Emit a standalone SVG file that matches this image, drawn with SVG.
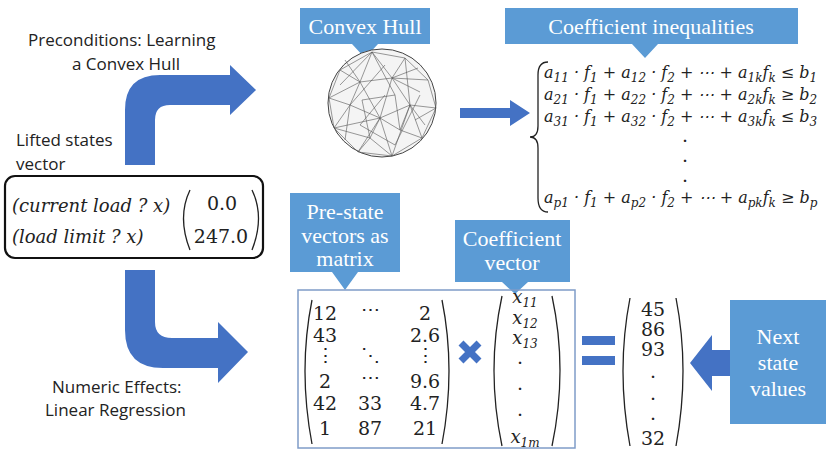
<svg xmlns="http://www.w3.org/2000/svg" width="832" height="456" viewBox="0 0 832 456">
<style>
.lbl{font-family:"Open Sans","Liberation Sans",sans-serif;font-size:17px;fill:#222}
.co{fill:#5b9bd5}
.ct{font-family:"Liberation Serif",serif;font-size:22px;fill:#fff;text-anchor:middle}
.ar{fill:#4472c4}
.m{font-family:"DejaVu Serif",serif;font-size:19px;fill:#222}
.mi{font-family:"DejaVu Serif",serif;font-style:italic;font-size:18px;fill:#222}
.eq{font-family:"DejaVu Serif",serif;font-style:italic;font-size:16px;fill:#222}
.par{fill:none;stroke:#222;stroke-width:1.3}
.mesh{fill:none;stroke:#555;stroke-width:0.6}
</style>
<rect width="832" height="456" fill="#fff"/>
<g id="labels">
<text class="lbl" x="28" y="46">Preconditions: Learning</text>
<text class="lbl" x="72" y="70">a Convex Hull</text>
<text class="lbl" x="16" y="146">Lifted states</text>
<text class="lbl" x="16" y="170">vector</text>
<text class="lbl" x="52" y="393">Numeric Effects:</text>
<text class="lbl" x="45" y="416">Linear Regression</text>
</g>
<g id="connectors">
<path class="ar" d="M125,165 V110 Q125,75 160,75 H230 V65 L256,90 L230,115 V105 H170 Q155,105 155,120 V165 Z"/>
<path class="ar" d="M125,270 V330 Q125,368 163,368 H218 V383 L248,352 L218,322 V338 H172 Q155,338 155,322 V270 Z"/>
<path class="ar" d="M460,108 H510 V100 L530,113 L510,126 V118 H460 Z"/>
<path class="ar" d="M690,363 L712,335 V350 H735 V376 H712 V391 Z"/>
</g>
<g id="convex-hull-callout">
<path class="co" d="M300,8 H430 V44 H378 L365,58 L352,44 H300 Z"/>
<text class="ct" x="365" y="34">Convex Hull</text>
</g>
<g id="coef-ineq-callout">
<path class="co" d="M505,8 H798 V44 H658 L645,58 L632,44 H505 Z"/>
<text class="ct" x="651" y="34">Coefficient inequalities</text>
</g>
<g id="hull">
<circle cx="382" cy="103" r="54" fill="#f4f4f4" stroke="#444" stroke-width="1"/>
<path class="mesh" d="M340,70 L372,52 L405,58 L428,80 L436,108 L422,138 L392,156 L358,152 L334,128 L329,98 Z M372,52 L360,82 L340,70 M360,82 L329,98 M360,82 L392,78 L405,58 M392,78 L428,80 M392,78 L410,105 L436,108 M410,105 L422,138 M410,105 L380,118 L360,82 M380,118 L334,128 M380,118 L392,156 M380,118 L358,152 M410,105 L392,156 M380,118 L392,78 M350,105 L329,98 M350,105 L360,82 M350,105 L380,118 M350,105 L334,128 M372,52 L392,78 M405,58 L410,105 M345,60 L360,82 M418,68 L392,78 M400,130 L380,118 M400,130 L422,138 M400,130 L410,105 M370,138 L380,118 M370,138 L358,152 M370,138 L392,156 M370,138 L334,128 M395,95 L372,52 M385,65 L350,105 M420,92 L392,78 M345,140 L350,105 M415,120 L436,108 M362,100 L395,95 L400,130 M362,100 L370,138 M340,85 L372,52 M425,125 L410,105 M385,95 L360,125 L395,145 L420,95"/>
</g>
<g id="inequalities">
<path class="par" d="M548,62 Q538,62 538,75 V126 Q538,137 530,137 Q538,137 538,148 V198 Q538,212 548,212"/>
<text class="eq" x="544" y="78">a<tspan font-size="12" dy="4">11</tspan><tspan dy="-4"> · f</tspan><tspan font-size="12" dy="4">1</tspan><tspan dy="-4"> + a</tspan><tspan font-size="12" dy="4">12</tspan><tspan dy="-4"> · f</tspan><tspan font-size="12" dy="4">2</tspan><tspan dy="-4"> + ⋯ + a</tspan><tspan font-size="12" dy="4">1k</tspan><tspan dy="-4">f</tspan><tspan font-size="12" dy="4">k</tspan><tspan dy="-4"> ≤ b</tspan><tspan font-size="12" dy="4">1</tspan></text>
<text class="eq" x="544" y="100">a<tspan font-size="12" dy="4">21</tspan><tspan dy="-4"> · f</tspan><tspan font-size="12" dy="4">1</tspan><tspan dy="-4"> + a</tspan><tspan font-size="12" dy="4">22</tspan><tspan dy="-4"> · f</tspan><tspan font-size="12" dy="4">2</tspan><tspan dy="-4"> + ⋯ + a</tspan><tspan font-size="12" dy="4">2k</tspan><tspan dy="-4">f</tspan><tspan font-size="12" dy="4">k</tspan><tspan dy="-4"> ≥ b</tspan><tspan font-size="12" dy="4">2</tspan></text>
<text class="eq" x="544" y="122">a<tspan font-size="12" dy="4">31</tspan><tspan dy="-4"> · f</tspan><tspan font-size="12" dy="4">1</tspan><tspan dy="-4"> + a</tspan><tspan font-size="12" dy="4">32</tspan><tspan dy="-4"> · f</tspan><tspan font-size="12" dy="4">2</tspan><tspan dy="-4"> + ⋯ + a</tspan><tspan font-size="12" dy="4">3k</tspan><tspan dy="-4">f</tspan><tspan font-size="12" dy="4">k</tspan><tspan dy="-4"> ≤ b</tspan><tspan font-size="12" dy="4">3</tspan></text>
<text class="m" x="685" y="142" text-anchor="middle">.</text>
<text class="m" x="685" y="162" text-anchor="middle">.</text>
<text class="m" x="685" y="182" text-anchor="middle">.</text>
<text class="eq" x="544" y="203">a<tspan font-size="12" dy="4">p1</tspan><tspan dy="-4"> · f</tspan><tspan font-size="12" dy="4">1</tspan><tspan dy="-4"> + a</tspan><tspan font-size="12" dy="4">p2</tspan><tspan dy="-4"> · f</tspan><tspan font-size="12" dy="4">2</tspan><tspan dy="-4"> + ⋯ + a</tspan><tspan font-size="12" dy="4">pk</tspan><tspan dy="-4">f</tspan><tspan font-size="12" dy="4">k</tspan><tspan dy="-4"> ≥ b</tspan><tspan font-size="12" dy="4">p</tspan></text>
</g>
<g id="lifted-vector">
<rect x="5" y="176" width="258" height="82" rx="10" fill="#fff" stroke="#111" stroke-width="2.2"/>
<text class="mi" x="12" y="212">(current load ? x)</text>
<text class="mi" x="12" y="243">(load limit ? x)</text>
<path class="par" d="M190,190 Q177,217 190,250"/>
<path class="par" d="M252,190 Q265,217 252,250"/>
<text class="m" x="222" y="210" text-anchor="middle">0.0</text>
<text class="m" x="221" y="243" text-anchor="middle">247.0</text>
</g>
<g id="prestate-callout">
<path class="co" d="M290,193 H400 V272 H358 L345,290 L332,272 H290 Z"/>
<text class="ct" x="345" y="219">Pre-state</text>
<text class="ct" x="345" y="243">vectors as</text>
<text class="ct" x="345" y="266">matrix</text>
</g>
<g id="coefvec-callout">
<path class="co" d="M455,220 H570 V282 H528 L515,294 L502,282 H455 Z"/>
<text class="ct" x="512" y="246">Coefficient</text>
<text class="ct" x="512" y="270">vector</text>
</g>
<g id="nextstate-callout">
<rect class="co" x="730" y="300" width="96" height="124"/>
<text class="ct" x="778" y="344">Next</text>
<text class="ct" x="778" y="370">state</text>
<text class="ct" x="778" y="396">values</text>
</g>
<g id="regression">
<rect x="298" y="290" width="277" height="158" fill="none" stroke="#7f9cc8" stroke-width="1.5"/>
<path class="par" d="M312,300 Q298,370 312,444"/>
<path class="par" d="M442,300 Q456,370 442,444"/>
<g class="m" text-anchor="middle">
<text x="325" y="320">12</text><text x="370" y="316">⋯</text><text x="425" y="320">2</text>
<text x="325" y="342">43</text><text x="425" y="342">2.6</text>
<text x="325" y="362">⋮</text><text x="370" y="362">⋱</text><text x="425" y="362">⋮</text>
<text x="325" y="388">2</text><text x="370" y="384">⋯</text><text x="425" y="388">9.6</text>
<text x="325" y="410">42</text><text x="370" y="410">33</text><text x="425" y="410">4.7</text>
<text x="325" y="435">1</text><text x="370" y="435">87</text><text x="425" y="435">21</text>
</g>
<path d="M461,343 L470,352 L479,343 M461,361 L470,352 L479,361" stroke="#4472c4" stroke-width="7" fill="none"/>
<path class="par" d="M502,296 Q486,370 502,446"/>
<path class="par" d="M552,296 Q568,370 552,446"/>
<g class="mi" text-anchor="middle">
<text x="525" y="303">x<tspan font-size="12" dy="4">11</tspan></text>
<text x="525" y="324">x<tspan font-size="12" dy="4">12</tspan></text>
<text x="525" y="344">x<tspan font-size="12" dy="4">13</tspan></text>
<text x="525" y="443">x<tspan font-size="12" dy="4">1m</tspan></text>
</g>
<g class="m" text-anchor="middle">
<text x="520" y="364">.</text><text x="520" y="390">.</text><text x="520" y="416">.</text>
</g>
<rect x="582" y="336" width="33" height="9" fill="#4472c4"/>
<rect x="582" y="356" width="33" height="9" fill="#4472c4"/>
<path class="par" d="M630,298 Q616,370 630,446"/>
<path class="par" d="M676,298 Q690,370 676,446"/>
<g class="m" text-anchor="middle" font-size="17">
<text x="653" y="316">45</text><text x="653" y="336">86</text><text x="653" y="356">93</text>
<text x="653" y="378">.</text><text x="653" y="400">.</text><text x="653" y="420">.</text>
<text x="653" y="445">32</text>
</g>
</g>
</svg>
